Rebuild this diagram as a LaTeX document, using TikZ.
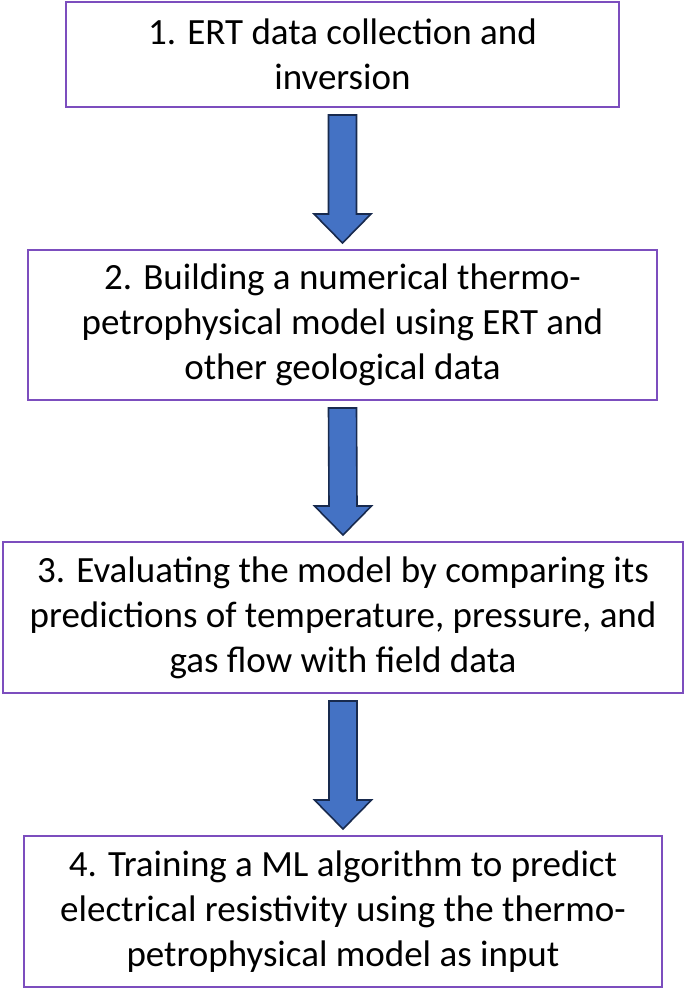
\documentclass[tikz,border=0pt]{standalone}
\usepackage{fontspec}
\setmainfont{Carlito}
\usepackage{tikz}
\usetikzlibrary{calc}
\definecolor{boxpurple}{RGB}{124,78,190}
\definecolor{arrowblue}{RGB}{68,114,196}
\definecolor{arrowedge}{RGB}{24,42,78}
\tikzset{
  stepbox/.style={draw=boxpurple, line width=1.6pt, fill=white, align=center, outer sep=0pt, inner sep=0pt, font=\fontsize{37}{45}\selectfont},
  blockarrow/.style={draw=arrowedge, fill=arrowblue, line width=1.6pt, line join=miter}
}
\def\blockarrow#1#2{\draw[blockarrow] ($(#1.south)+(-14,8)$) -- ($(#1.south)+(14,8)$) -- ($(#2.north)+(14,-36)$) -- ($(#2.north)+(28.5,-36)$) -- ($(#2.north)+(0,-7)$) -- ($(#2.north)+(-28.5,-36)$) -- ($(#2.north)+(-14,-36)$) -- cycle;}

\begin{document}
\begin{tikzpicture}[x=1pt,y=-1pt]
			%%%%% START %%%%%
			\useasboundingbox (0, 0) rectangle (685, 989);
			
			\node[stepbox, minimum width=553pt, minimum height=105pt] (collect) at (342.5, 54.5) {1. ERT data collection and\\inversion};
			\node[stepbox, minimum width=629pt, minimum height=150pt] (build) at (342.5, 325) {2. Building a numerical thermo-\\petrophysical model using ERT and\\other geological data};
			\node[stepbox, minimum width=680pt, minimum height=151pt] (evaluate) at (343, 617.5) {3. Evaluating the model by comparing its\\predictions of temperature, pressure, and\\gas flow with field data};
			\node[stepbox, minimum width=638pt, minimum height=151pt] (train) at (343, 911.5) {4. Training a ML algorithm to predict\\electrical resistivity using the thermo-\\petrophysical model as input};
			
			\blockarrow{collect}{build}
			\blockarrow{build}{evaluate}
			\blockarrow{evaluate}{train}
			%%%%% END %%%%%
\end{tikzpicture}
\end{document}
